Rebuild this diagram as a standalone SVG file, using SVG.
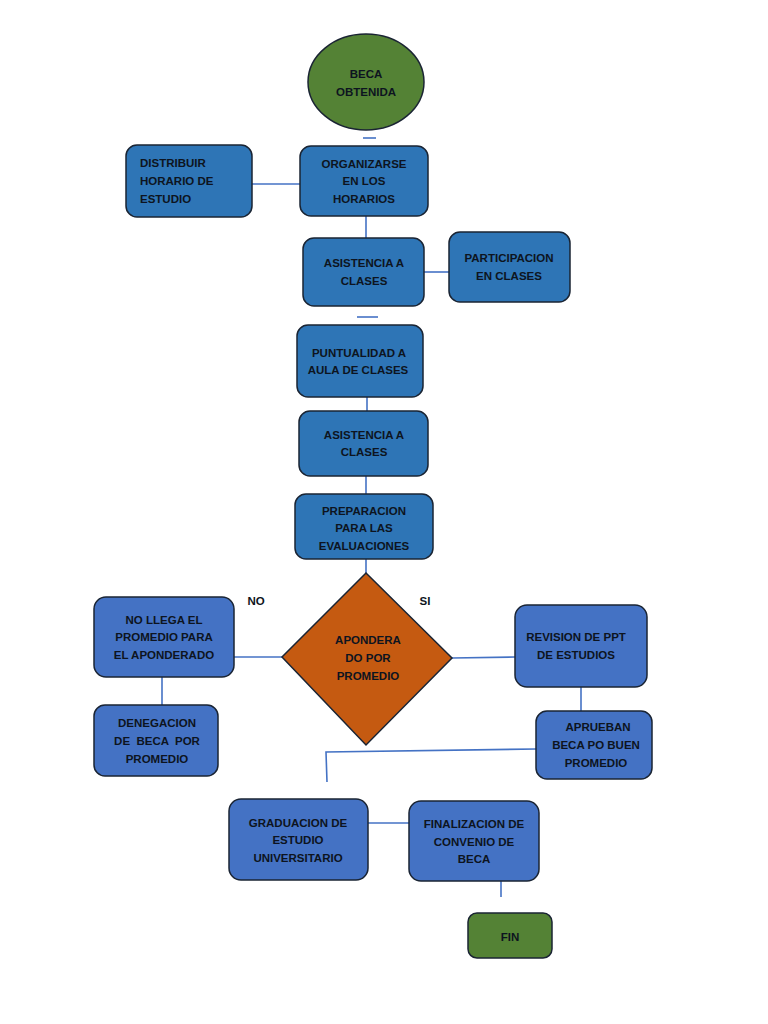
<svg xmlns="http://www.w3.org/2000/svg" width="768" height="1024" viewBox="0 0 768 1024">
<style>
  .b1 { fill: #2E75B6; stroke: #1a2433; stroke-width: 1.5; }
  .b2 { fill: #4472C4; stroke: #1a2433; stroke-width: 1.5; }
  .g { fill: #548235; stroke: #1a2433; stroke-width: 1.5; }
  .d { fill: #C55A11; stroke: #1a2433; stroke-width: 1.5; }
  text { font-family: "Liberation Sans", Arial, sans-serif; font-weight: bold; font-size: 11.5px; fill: #0d1420; text-anchor: middle; white-space: pre; }
  .l { text-anchor: start; }
  .c { fill: none; stroke: #4472C4; stroke-width: 1.6; }
</style>
<rect width="768" height="1024" fill="#ffffff"/>
<g id="connectors">
  <line class="c" x1="363" y1="138" x2="376" y2="138"/>
  <line class="c" x1="252" y1="184" x2="300" y2="184"/>
  <line class="c" x1="366" y1="216" x2="366" y2="238"/>
  <line class="c" x1="424" y1="272" x2="449" y2="272"/>
  <line class="c" x1="357" y1="317" x2="378" y2="317"/>
  <line class="c" x1="367" y1="397" x2="367" y2="411"/>
  <line class="c" x1="366" y1="476" x2="366" y2="494"/>
  <line class="c" x1="366" y1="559" x2="366" y2="573"/>
  <line class="c" x1="234" y1="657" x2="282" y2="657"/>
  <line class="c" x1="162" y1="677" x2="162" y2="705"/>
  <line class="c" x1="452" y1="658" x2="515" y2="657"/>
  <line class="c" x1="581" y1="687" x2="581" y2="711"/>
  <polyline class="c" points="536,749 326,752 327,782"/>
  <line class="c" x1="368" y1="823" x2="409" y2="823"/>
  <line class="c" x1="501" y1="881" x2="501" y2="897"/>
</g>
<g id="n-beca">
  <ellipse class="g" cx="366" cy="82" rx="58" ry="48"/>
  <text x="366" y="78">BECA</text>
  <text x="366" y="96">OBTENIDA</text>
</g>
<g id="n-distribuir">
  <rect class="b1" x="126" y="145" width="126" height="72" rx="11"/>
  <text class="l" x="140" y="167">DISTRIBUIR</text>
  <text class="l" x="140" y="185">HORARIO DE</text>
  <text class="l" x="140" y="203">ESTUDIO</text>
</g>
<g id="n-organizarse">
  <rect class="b1" x="300" y="146" width="128" height="70" rx="11"/>
  <text x="364" y="168">ORGANIZARSE</text>
  <text x="364" y="185">EN LOS</text>
  <text x="364" y="203">HORARIOS</text>
</g>
<g id="n-asistencia1">
  <rect class="b1" x="303" y="238" width="121" height="68" rx="11"/>
  <text x="364" y="267">ASISTENCIA A</text>
  <text x="364" y="285">CLASES</text>
</g>
<g id="n-participacion">
  <rect class="b1" x="449" y="232" width="121" height="70" rx="11"/>
  <text x="509" y="262">PARTICIPACION</text>
  <text x="509" y="280">EN CLASES</text>
</g>
<g id="n-puntualidad">
  <rect class="b1" x="297" y="325" width="126" height="72" rx="11"/>
  <text x="359" y="357">PUNTUALIDAD A</text>
  <text x="358" y="374">AULA DE CLASES</text>
</g>
<g id="n-asistencia2">
  <rect class="b1" x="299" y="411" width="129" height="65" rx="11"/>
  <text x="364" y="439">ASISTENCIA A</text>
  <text x="364" y="456">CLASES</text>
</g>
<g id="n-preparacion">
  <rect class="b1" x="295" y="494" width="138" height="65" rx="11"/>
  <text x="364" y="515">PREPARACION</text>
  <text x="364" y="532">PARA LAS</text>
  <text x="364" y="550">EVALUACIONES</text>
</g>
<g id="n-decision">
  <polygon class="d" points="366,573 452,658 366,745 282,657"/>
  <text x="368" y="644">APONDERA</text>
  <text x="368" y="662">DO POR</text>
  <text x="368" y="680">PROMEDIO</text>
</g>
<text x="256" y="605">NO</text>
<text x="425" y="605">SI</text>
<g id="n-nollega">
  <rect class="b2" x="94" y="597" width="140" height="80" rx="12"/>
  <text x="164" y="624">NO LLEGA EL</text>
  <text x="164" y="641">PROMEDIO PARA</text>
  <text x="164" y="659">EL APONDERADO</text>
</g>
<g id="n-denegacion">
  <rect class="b2" x="94" y="705" width="124" height="71" rx="11"/>
  <text x="157" y="727">DENEGACION</text>
  <text x="157" y="745">DE  BECA  POR</text>
  <text x="157" y="763">PROMEDIO</text>
</g>
<g id="n-revision">
  <rect class="b2" x="515" y="605" width="132" height="82" rx="12"/>
  <text x="576" y="641">REVISION DE PPT</text>
  <text x="576" y="659">DE ESTUDIOS</text>
</g>
<g id="n-aprueban">
  <rect class="b2" x="536" y="711" width="116" height="68" rx="11"/>
  <text x="598" y="731">APRUEBAN</text>
  <text x="596" y="749">BECA PO BUEN</text>
  <text x="596" y="767">PROMEDIO</text>
</g>
<g id="n-graduacion">
  <rect class="b2" x="229" y="799" width="139" height="81" rx="12"/>
  <text x="298" y="827">GRADUACION DE</text>
  <text x="298" y="844">ESTUDIO</text>
  <text x="298" y="862">UNIVERSITARIO</text>
</g>
<g id="n-finalizacion">
  <rect class="b2" x="409" y="801" width="130" height="80" rx="12"/>
  <text x="474" y="828">FINALIZACION DE</text>
  <text x="474" y="846">CONVENIO DE</text>
  <text x="474" y="863">BECA</text>
</g>
<g id="n-fin">
  <rect class="g" x="468" y="913" width="84" height="45" rx="9"/>
  <text x="510" y="941">FIN</text>
</g>
</svg>
